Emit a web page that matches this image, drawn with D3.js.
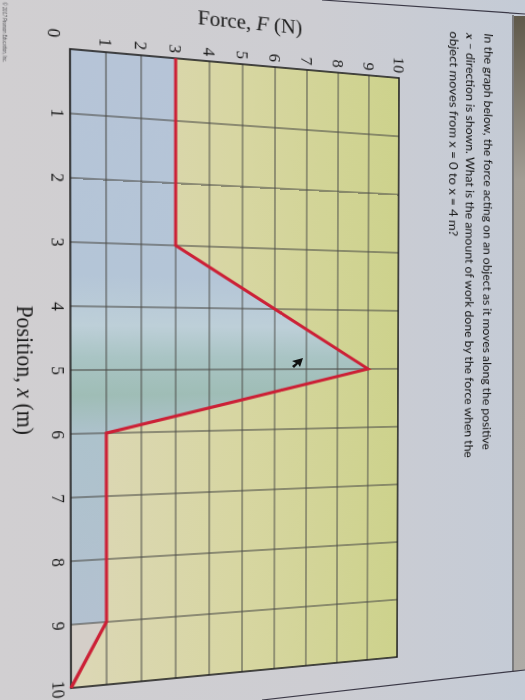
<!DOCTYPE html>
<html><head><meta charset="utf-8">
<script src="https://cdn.jsdelivr.net/npm/d3@7"></script>
<style>
html,body{margin:0;padding:0;width:525px;height:700px;overflow:hidden;background:#cbcacf;}
#bg,#fg{position:absolute;left:0;top:0;}
#sheet{position:absolute;left:0;top:0;transform-origin:0 0;}
</style></head><body>
<svg id="bg" width="525" height="700"></svg>
<div id="sheet"></div>
<svg id="fg" width="525" height="700"></svg>
<script>
// ---- data ----
const positions = [0, 3, 5, 6, 9, 10];
const forces    = [3, 3, 9, 1, 1, 0];
const shadedUpTo = 9;
const positionTicks = [1, 2, 3, 4, 5, 6, 7, 8, 9, 10];
const forceTicks    = [1, 2, 3, 4, 5, 6, 7, 8, 9, 10];
const originLabel = "0";
const questionLines = [
  "In the graph below, the force acting on an object as it moves along the positive",
  "\u2013 direction is shown. What is the amount of work done by the force when the",
  "object moves from x = 0 to x = 4 m?"
];
const copyright = "\u00A9 2017 Pearson Education, Inc.";

// ---- layout of the (unrotated) screen sheet ----
const W = 880, H = 600, uL = 130, uR = 750, vT = 130, vB = 460;

function solve(A, b) {
  const n = b.length;
  const M = A.map((r, i) => r.concat([b[i]]));
  for (let i = 0; i < n; i++) {
    let p = i;
    for (let k = i + 1; k < n; k++) if (Math.abs(M[k][i]) > Math.abs(M[p][i])) p = k;
    [M[i], M[p]] = [M[p], M[i]];
    for (let k = i + 1; k < n; k++) {
      const f = M[k][i] / M[i][i];
      for (let j = i; j <= n; j++) M[k][j] -= f * M[i][j];
    }
  }
  const xs = new Array(n).fill(0);
  for (let i = n - 1; i >= 0; i--) {
    let s = M[i][n];
    for (let j = i + 1; j < n; j++) s -= M[i][j] * xs[j];
    xs[i] = s / M[i][i];
  }
  return xs;
}
function homography(src, dst) {
  const A = [], b = [];
  for (let i = 0; i < 4; i++) {
    const [x, y] = src[i], [X, Y] = dst[i];
    A.push([x, y, 1, 0, 0, 0, -x * X, -y * X]); b.push(X);
    A.push([0, 0, 0, x, y, 1, -x * Y, -y * Y]); b.push(Y);
  }
  return solve(A, b);
}
function apply(h, [x, y]) {
  const w = h[6] * x + h[7] * y + 1;
  return [(h[0] * x + h[1] * y + h[2]) / w, (h[3] * x + h[4] * y + h[5]) / w];
}
const srcC = [[uL, vB], [uL, vT], [uR, vT], [uR, vB]];
const dstC = [[70, 49], [399, 78], [397, 657], [71, 688]];
const Hm = homography(srcC, dstC);
const Hinv = homography(dstC, srcC);
d3.select('#sheet').style('width', W + 'px').style('height', H + 'px')
  .style('transform', `matrix3d(${Hm[0]},${Hm[3]},0,${Hm[6]},${Hm[1]},${Hm[4]},0,${Hm[7]},0,0,1,0,${Hm[2]},${Hm[5]},0,1)`);

// ---- page background decor (screen frame) ----
const bg = d3.select('#bg');
const bdefs = bg.append('defs');
const bgGrad = bdefs.append('linearGradient').attr('id', 'bgg').attr('x1', 0).attr('x2', 1).attr('y1', 0).attr('y2', 0);
bgGrad.append('stop').attr('offset', 0).attr('stop-color', '#d1cfd1');
bgGrad.append('stop').attr('offset', 0.6).attr('stop-color', '#cdcdd2');
bgGrad.append('stop').attr('offset', 1).attr('stop-color', '#c4cbd6');
bg.append('rect').attr('width', 525).attr('height', 700).attr('fill', 'url(#bgg)');
const bandGrad = bdefs.append('linearGradient').attr('id', 'band').attr('x1', 0).attr('x2', 0).attr('y1', 0).attr('y2', 1);
bandGrad.append('stop').attr('offset', 0).attr('stop-color', '#5f594a');
bandGrad.append('stop').attr('offset', 0.25).attr('stop-color', '#a29d94');
bandGrad.append('stop').attr('offset', 1).attr('stop-color', '#aeaba6');
bg.append('path').attr('d', 'M514,16 L525,16 L525,670 L514,672 Z').attr('fill', 'url(#band)');
bg.append('line').attr('x1', 513).attr('y1', 15).attr('x2', 513).attr('y2', 672).attr('stroke', '#4a4744').attr('stroke-width', 1.2);
bg.append('line').attr('x1', 322).attr('y1', 0).attr('x2', 525).attr('y2', 14).attr('stroke', '#3c3a48').attr('stroke-width', 1.2);
bg.append('line').attr('x1', 262).attr('y1', 700).attr('x2', 525).attr('y2', 670).attr('stroke', '#3c3a48').attr('stroke-width', 1.2);

// ---- chart in sheet coordinates ----
const svg = d3.select('#sheet').append('svg').attr('width', W).attr('height', H);
const defs = svg.append('defs');
const x = d3.scaleLinear().domain([0, 10]).range([uL, uR]);
const y = d3.scaleLinear().domain([0, 10]).range([vB, vT]);

const yg = defs.append('linearGradient').attr('id', 'yel').attr('gradientUnits', 'userSpaceOnUse')
  .attr('x1', 0).attr('x2', 0).attr('y1', y(0)).attr('y2', y(10));
[[0, '#dcd7b6'], [0.5, '#d7d6a1'], [1, '#cdd28c']].forEach(([o, c]) => yg.append('stop').attr('offset', o).attr('stop-color', c));
const blg = defs.append('linearGradient').attr('id', 'blu').attr('gradientUnits', 'userSpaceOnUse')
  .attr('x1', x(0)).attr('x2', x(10)).attr('y1', 0).attr('y2', 0);
[[0, '#b6c4d7'], [0.35, '#b4c5d7'], [0.43, '#bdcfd8'], [0.48, '#a9c4c4'], [0.54, '#9fbdb6'], [0.6, '#adc2cc'], [0.9, '#b3c1d0']]
  .forEach(([o, c]) => blg.append('stop').attr('offset', o).attr('stop-color', c));

svg.append('rect').attr('x', x(0)).attr('y', y(10)).attr('width', x(10) - x(0)).attr('height', y(0) - y(10)).attr('fill', 'url(#yel)');

const pts = positions.map((p, i) => ({ p, f: forces[i] }));
const area = d3.area().x(d => x(d.p)).y0(y(0)).y1(d => y(d.f));
svg.append('path').datum(pts.filter(d => d.p <= shadedUpTo)).attr('d', area).attr('fill', 'url(#blu)');
svg.append('path').datum(pts.filter(d => d.p >= shadedUpTo)).attr('d', area).attr('fill', '#d4cec8');

const grid = svg.append('g').attr('stroke', '#4d4d49').attr('stroke-width', 1.1);
grid.selectAll('.gx').data(positionTicks.filter(t => t < 10)).join('line')
  .attr('x1', d => x(d)).attr('x2', d => x(d)).attr('y1', y(0)).attr('y2', y(10));
grid.selectAll('.gy').data(forceTicks.filter(t => t < 10)).join('line')
  .attr('y1', d => y(d)).attr('y2', d => y(d)).attr('x1', x(0)).attr('x2', x(10));
svg.append('rect').attr('x', x(0)).attr('y', y(10)).attr('width', x(10) - x(0)).attr('height', y(0) - y(10))
  .attr('fill', 'none').attr('stroke', '#1e1e1e').attr('stroke-width', 1.6);

svg.append('path').datum(pts).attr('d', d3.line().x(d => x(d.p)).y(d => y(d.f)))
  .attr('fill', 'none').attr('stroke', '#cc2036').attr('stroke-width', 3.2).attr('stroke-linejoin', 'miter');

const serif = "'Liberation Serif','Times New Roman',serif";
const xa = svg.append('g').attr('transform', `translate(0,${y(0)})`)
  .call(d3.axisBottom(x).tickValues(positionTicks).tickSize(0).tickPadding(5));
const ya = svg.append('g').attr('transform', `translate(${x(0)},0)`)
  .call(d3.axisLeft(y).tickValues(forceTicks).tickSize(0).tickPadding(5));
[xa, ya].forEach(a => {
  a.select('.domain').remove();
  a.selectAll('text').attr('font-family', serif).attr('font-size', 17).attr('fill', '#1b1b1b');
});
svg.append('text').attr('x', x(0) - 14).attr('y', y(0) + 20).attr('text-anchor', 'middle')
  .attr('font-family', serif).attr('font-size', 17).attr('fill', '#1b1b1b').text(originLabel);

const xt = svg.append('text').attr('x', x(5)).attr('y', y(0) + 48).attr('text-anchor', 'middle')
  .attr('font-family', serif).attr('font-size', 21).attr('fill', '#1b1b1b');
xt.append('tspan').text('Position, ');
xt.append('tspan').attr('font-style', 'italic').text('x');
xt.append('tspan').text(' (m)');
const yt = svg.append('text').attr('transform', `translate(${x(0) - 36},${y(5.25)}) rotate(-90)`).attr('text-anchor', 'middle')
  .attr('font-family', serif).attr('font-size', 21).attr('fill', '#1b1b1b');
yt.append('tspan').text('Force, ');
yt.append('tspan').attr('font-style', 'italic').text('F');
yt.append('tspan').text(' (N)');

// ---- question text, anchored at its place on the photographed screen ----
const qTargets = [[484.5, 33, 450], [466.5, 33, 458], [449.5, 31, 236]];
questionLines.forEach((s, i) => {
  const [px, py0, py1] = qTargets[i];
  const a = apply(Hinv, [px, py0]);
  const b = apply(Hinv, [px - (py1 - py0) * 0.01, py1]);
  const t = svg.append('text').attr('x', a[0]).attr('y', a[1])
    .attr('font-family', "Lato,'Open Sans',sans-serif").attr('font-size', 12.5).attr('fill', '#151515')
    .attr('textLength', b[0] - a[0]).attr('lengthAdjust', 'spacingAndGlyphs');
  if (i === 1) {
    t.append('tspan').attr('font-family', serif).attr('font-style', 'italic').attr('font-weight', 'bold').text('x');
    t.append('tspan').text(' ' + s);
  } else t.text(s);
});
{
  const a = apply(Hinv, [3, 2]);
  const b = apply(Hinv, [3, 62]);
  svg.append('text').attr('x', a[0]).attr('y', a[1]).attr('font-family', "Lato,sans-serif").attr('font-size', 6)
    .attr('fill', '#5a5a5e').attr('textLength', b[0] - a[0]).attr('lengthAdjust', 'spacingAndGlyphs').text(copyright);
}

// ---- mouse pointer seen on the screen ----
d3.select('#fg').append('path').attr('d', 'M303,358 L292,361 L296,363 L292,366 L294,368 L298,364 L300,367 Z').attr('fill', '#111');
</script>
</body></html>
